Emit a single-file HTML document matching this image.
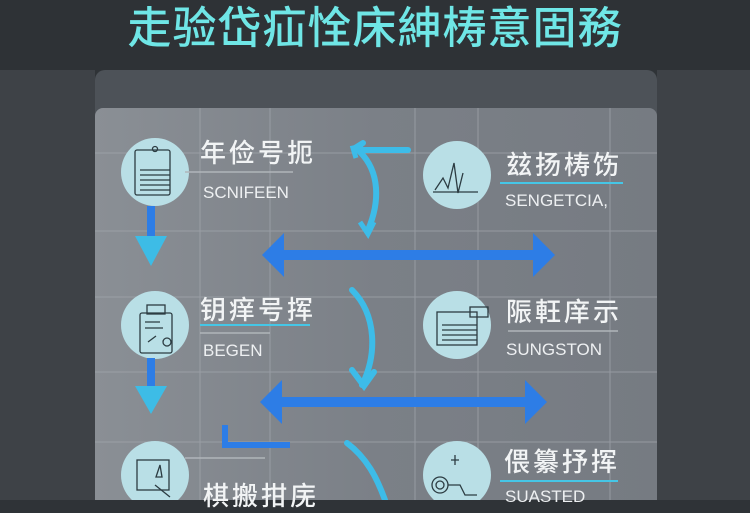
<!DOCTYPE html>
<html><head><meta charset="utf-8"><style>
html,body{margin:0;width:750px;height:500px;overflow:hidden;background:#2f3337;font-family:"Liberation Sans","Noto Sans CJK SC",sans-serif;}
.t{position:absolute;white-space:nowrap}
.cn{color:#f2f4f5;font-size:26px;font-weight:500;font-family:"Noto Sans CJK SC",sans-serif;letter-spacing:3px}
.en{color:#eef0f2;font-size:17px}
</style></head><body>
<div style="position:absolute;left:0;top:0;width:750px;height:70px;background:#2e3236"></div>
<div class="t" style="left:112px;top:-8px;width:526px;text-align:center;color:#6fe6e6;font-size:44px;font-weight:500;font-family:'Noto Sans CJK SC',sans-serif;letter-spacing:1px">走验岱疝恮床紳梼意固務</div>
<div style="position:absolute;left:95px;top:70px;width:562px;height:430px;background:#4d5258;border-radius:10px 10px 0 0"></div>
<div style="position:absolute;left:0;top:70px;width:95px;height:430px;background:#3e4247"></div>
<div style="position:absolute;left:657px;top:70px;width:93px;height:430px;background:#3e4247"></div>
<div style="position:absolute;left:95px;top:108px;width:562px;height:392px;background:linear-gradient(90deg,#8a8f95,#7b8087 50%,#767b82);border-radius:8px 8px 0 0"></div>
<svg style="position:absolute;left:0;top:0" width="750" height="500">
<g stroke="#a3a8ae" stroke-width="1" opacity="0.7">
<line x1="200" y1="108" x2="200" y2="500"/><line x1="270" y1="108" x2="270" y2="500"/><line x1="415" y1="108" x2="415" y2="500"/><line x1="478" y1="108" x2="478" y2="500"/><line x1="610" y1="108" x2="610" y2="500"/>
<line x1="95" y1="153" x2="657" y2="153"/><line x1="95" y1="231" x2="657" y2="231"/><line x1="95" y1="297" x2="657" y2="297"/><line x1="95" y1="372" x2="657" y2="372"/><line x1="95" y1="442" x2="657" y2="442"/>
</g>
<g fill="#b9dfe6"><circle cx="155" cy="172" r="34"/><circle cx="457" cy="175" r="34"/><circle cx="155" cy="325" r="34"/><circle cx="457" cy="325" r="34"/><circle cx="155" cy="475" r="34"/><circle cx="457" cy="475" r="34"/></g>
<g stroke="#2c3c42" stroke-width="1.3" fill="none">
<rect x="135" y="150" width="35" height="45" rx="2"/><circle cx="155" cy="149" r="2.5"/>
<path d="M140 170h30M140 175h30M140 180h30M140 185h30M140 190h30"/>
<path d="M435 190l8-12 5 10 6-25 4 30 5-20M433 192h45"/>
<rect x="140" y="313" width="32" height="40" rx="2"/><rect x="147" y="305" width="18" height="9"/><path d="M145 322h15M145 328h18M148 342l8-6"/><circle cx="167" cy="342" r="4"/>
<rect x="437" y="312" width="40" height="33"/><path d="M442 325h35M442 330h35M442 335h35M442 340h35"/><rect x="470" y="307" width="18" height="10"/>
<rect x="137" y="460" width="32" height="30"/><path d="M160 465l-4 12h6zM155 485l15 12"/>
<circle cx="440" cy="485" r="8"/><circle cx="440" cy="485" r="4"/><path d="M448 485h12l5 10h12M455 455v10M451 460h8"/>
</g>
<g fill="#2d7de6">
<rect x="147" y="206" width="8" height="32"/><rect x="147" y="358" width="8" height="30"/>
<path d="M275 255h270" stroke="#2d7de6" stroke-width="10"/><path d="M262 255l22-22v44zM555 255l-22-22v44z"/>
<path d="M275 402h260" stroke="#2d7de6" stroke-width="10"/><path d="M260 402l22-22v44zM547 402l-22-22v44z"/>
<path d="M225 425v20h65" stroke="#2d7de6" stroke-width="6" fill="none"/>
</g>
<g fill="#3dbce6"><path d="M135 236h32l-16 30z"/><path d="M135 386h32l-16 28z"/></g>
<g stroke="#3dbce8" stroke-width="6" fill="none" stroke-linecap="round">
<path d="M408 150h-50"/><path d="M360 152c20 20 20 50 8 78"/><path d="M355 148l8 -5"/>
<path d="M352 290c25 25 25 65 10 95"/><path d="M352 370l12 16 10-14"/>
<path d="M347 443c20 15 30 35 38 57"/>
</g>
<g stroke="#3dbce8" stroke-width="5" fill="none"><path d="M356 158l-3-10 10-2M360 222l8 12 6-12"/></g>
<g stroke="#b0b5ba" stroke-width="1.5"><line x1="185" y1="172" x2="293" y2="172"/><line x1="200" y1="333" x2="270" y2="333"/><line x1="508" y1="331" x2="618" y2="331"/><line x1="185" y1="458" x2="265" y2="458"/></g>
<g stroke="#45c6e6" stroke-width="2"><line x1="500" y1="183" x2="623" y2="183"/><line x1="200" y1="325" x2="310" y2="325"/><line x1="500" y1="481" x2="618" y2="481"/></g>
</svg>
<div class="t cn" style="left:200px;top:133px">年俭号扼</div>
<div class="t en" style="left:203px;top:183px">SCNIFEEN</div>
<div class="t cn" style="left:506px;top:145px">玆扬梼饬</div>
<div class="t en" style="left:505px;top:191px">SENGETCIA,</div>
<div class="t cn" style="left:200px;top:290px">钥痒号挥</div>
<div class="t en" style="left:203px;top:341px">BEGEN</div>
<div class="t cn" style="left:506px;top:292px">陙軖庠示</div>
<div class="t en" style="left:506px;top:340px">SUNGSTON</div>
<div class="t cn" style="left:203px;top:476px">棋搬拑庑</div>
<div class="t cn" style="left:504px;top:442px">偎纂抒挥</div>
<div class="t en" style="left:505px;top:487px">SUASTED</div>
</body></html>
